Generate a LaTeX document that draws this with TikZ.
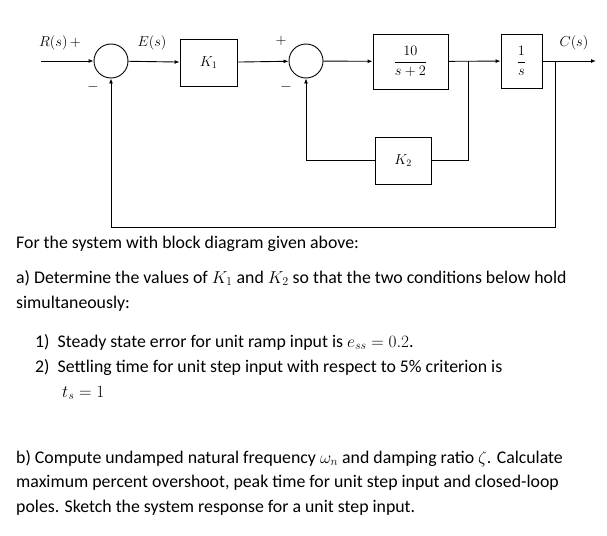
\documentclass[tikz,border=0pt]{standalone}
\usepackage{amsmath}
\usepackage{fontspec}
\setmainfont{Carlito}
\usetikzlibrary{arrows.meta}
\begin{document}
\begin{tikzpicture}[x=1pt,y=-1pt,
  blk/.style={draw,line width=0.9pt,inner sep=0pt},
  sum/.style={draw,circle,line width=0.9pt,minimum size=34pt,inner sep=0pt},
  sig/.style={line width=0.9pt,-{Latex[length=5pt,width=4pt]}},
  ln/.style={line width=0.9pt},
  lab/.style={font=\fontsize{14}{16}\selectfont},
  txt/.style={anchor=base west,inner sep=0pt,font=\fontsize{17.8}{20}\selectfont}]
\useasboundingbox (0,0) rectangle (607,535);
\coordinate (in) at (41,61);
\node[sum] (s1) at (111,61) {};
\node[blk,minimum width=57pt,minimum height=47pt,lab] (k1) at (208.5,62.5) {$K_1$};
\node[sum] (s2) at (306,61) {};
\node[blk,minimum width=75pt,minimum height=55pt,lab] (g) at (410.5,61.5) {$\dfrac{10}{s+2}$};
\node[blk,minimum width=41pt,minimum height=54pt,lab] (i) at (521.5,61) {$\dfrac{1}{s}$};
\node[blk,minimum width=56pt,minimum height=47pt,lab] (k2) at (403,160.5) {$K_2$};
\coordinate (b1) at (468,61);
\coordinate (b2) at (555,61);
\coordinate (out) at (596,61);
\draw[sig] (in) -- (s1);
\draw[sig] (s1) -- (k1);
\draw[sig] (k1) -- (s2);
\draw[sig] (s2) -- (g);
\draw[sig] (g) -- (i);
\draw[sig] (i) -- (out);
\draw[ln] (b1) |- (k2);
\draw[sig] (k2) -| (s2);
\draw[sig] (b2) |- (111,227) -- (s1);
\node[lab] at (60,43) {$R(s)\,+$};
\node[lab] at (152,43) {$E(s)$};
\node[lab] at (281,41) {$+$};
\node[lab] at (574,43) {$C(s)$};
\node[lab] at (93,87) {$-$};
\node[lab] at (286,87) {$-$};
\node[txt] at (16,248) {For the system with block diagram given above:};
\node[txt] at (16,283) {a) Determine the values of $K_1$ and $K_2$ so that the two conditions below hold};
\node[txt] at (16,308) {simultaneously:};
\node[txt] at (35,347) {1)\ \ Steady state error for unit ramp input is $e_{ss}=0.2$.};
\node[txt] at (35,372) {2)\ \ Settling time for unit step input with respect to 5\% criterion is};
\node[txt] at (62,397) {$t_s=1$};
\node[txt] at (16,463) {b) Compute undamped natural frequency $\omega_n$ and damping ratio $\zeta$. Calculate};
\node[txt] at (16,487) {maximum percent overshoot, peak time for unit step input and closed-loop};
\node[txt] at (16,512) {poles. Sketch the system response for a unit step input.};
\end{tikzpicture}
\end{document}
